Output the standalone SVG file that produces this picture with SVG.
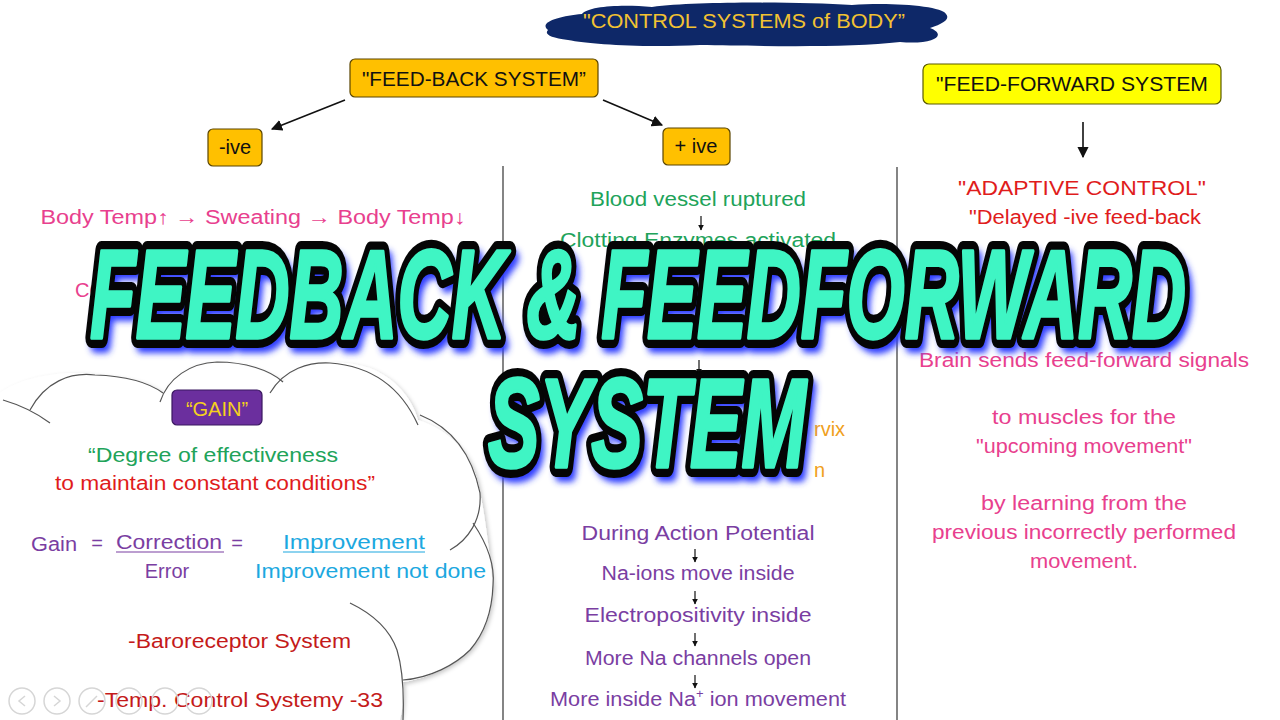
<svg xmlns="http://www.w3.org/2000/svg" width="1280" height="720" viewBox="0 0 1280 720">
<defs>
<style>
.h{font-family:"Liberation Sans","DejaVu Sans",sans-serif;font-size:20px}
.c{text-anchor:middle}
.box{stroke:#5a4500;stroke-width:1.2}
.conn{stroke:#111;stroke-width:1.6;fill:none}
.small{stroke:#111;stroke-width:1.2;fill:none}
.pink{fill:#e8408e}.green{fill:#21a35a}.purple{fill:#7a3ea2}.red{fill:#e01c1c}.dred{fill:#c41a1a}.blue{fill:#1ca8e0}.orange{fill:#f0a020}
.big{font-family:"Liberation Sans","DejaVu Sans",sans-serif;font-weight:bold;font-style:italic;font-size:126px}
.icon{fill:none;stroke:#d6d6d6;stroke-width:1.5}
</style>
<marker id="ah" viewBox="0 0 10 10" refX="9" refY="5" markerWidth="7" markerHeight="7" orient="auto"><path d="M0,0 L10,5 L0,10 Z" fill="#111"/></marker>
<marker id="ahs" viewBox="0 0 10 10" refX="9" refY="5" markerWidth="5" markerHeight="5" orient="auto"><path d="M0,0 L10,5 L0,10 Z" fill="#111"/></marker>
<filter id="sh" x="-10%" y="-10%" width="130%" height="130%"><feGaussianBlur stdDeviation="3"/></filter>
<filter id="csh" x="-10%" y="-10%" width="130%" height="130%"><feDropShadow dx="2" dy="2" stdDeviation="2" flood-color="#000" flood-opacity="0.22"/></filter>
</defs>
<rect width="1280" height="720" fill="#ffffff"/>

<g id="dividers">
<line x1="503" y1="166" x2="503" y2="720" stroke="#333" stroke-width="1.2"/>
<line x1="897" y1="167" x2="897" y2="720" stroke="#333" stroke-width="1.2"/>
</g>

<g id="title-banner">
<path d="M548,30 C538,22 560,16 582,14 C588,6 622,4 652,7 C700,1 800,2 852,5 C892,2 942,6 946,14 C952,21 936,26 930,28 C948,35 934,45 900,42 C850,48 760,46 700,45 C640,48 590,44 568,40 C550,38 544,34 548,30 Z" fill="#0e2868"/>
<text x="744" y="28" class="h c" font-size="21" fill="#f2c232" textLength="322" lengthAdjust="spacingAndGlyphs">"CONTROL SYSTEMS of BODY”</text>
</g>

<g id="feedback">
<rect x="350" y="59" width="248" height="38" rx="5" fill="#ffc000" class="box"/>
<text x="474" y="86" class="h c" fill="#111" textLength="224" lengthAdjust="spacingAndGlyphs">"FEED-BACK SYSTEM”</text>
</g>
<g id="negative">
<rect x="208" y="129" width="54" height="37" rx="5" fill="#ffc000" class="box"/>
<text x="235" y="154" class="h c" fill="#111">-ive</text>
</g>
<g id="positive">
<rect x="663" y="128" width="67" height="37" rx="5" fill="#ffc000" class="box"/>
<text x="696" y="153" class="h c" fill="#111">+ ive</text>
</g>
<g id="feedforward">
<rect x="923" y="64" width="298" height="40" rx="6" fill="#ffff00" stroke="#5a5a00" stroke-width="1.2"/>
<text x="1072" y="91" class="h c" fill="#111" textLength="272" lengthAdjust="spacingAndGlyphs">"FEED-FORWARD SYSTEM</text>
</g>

<g id="connectors">
<line x1="345" y1="100" x2="272" y2="129" class="conn" marker-end="url(#ah)"/>
<line x1="603" y1="100" x2="662" y2="125" class="conn" marker-end="url(#ah)"/>
<line x1="1083" y1="122" x2="1083" y2="157" class="conn" marker-end="url(#ah)"/>
<line x1="701" y1="216" x2="701" y2="230" class="small" marker-end="url(#ahs)"/>
<line x1="699" y1="360" x2="699" y2="374" class="small" marker-end="url(#ahs)"/>
<line x1="695" y1="549" x2="695" y2="562" class="small" marker-end="url(#ahs)"/>
<line x1="695" y1="591" x2="695" y2="604" class="small" marker-end="url(#ahs)"/>
<line x1="695" y1="633" x2="695" y2="646" class="small" marker-end="url(#ahs)"/>
<line x1="695" y1="675" x2="695" y2="688" class="small" marker-end="url(#ahs)"/>
</g>

<g id="negative-text">
<text x="253" y="224" class="h c pink" textLength="425" lengthAdjust="spacingAndGlyphs">Body Temp↑ → Sweating → Body Temp↓</text>
<text x="75" y="297" class="h pink">CO</text>
</g>

<g id="positive-text">
<text x="698" y="206" class="h c green" textLength="216" lengthAdjust="spacingAndGlyphs">Blood vessel ruptured</text>
<text x="698" y="247" class="h c green" textLength="276" lengthAdjust="spacingAndGlyphs">Clotting Enzymes activated</text>
<text x="814" y="436" class="h orange">rvix</text>
<text x="814" y="477" class="h orange">n</text>
<text x="698" y="540" class="h c purple" textLength="233" lengthAdjust="spacingAndGlyphs">During Action Potential</text>
<text x="698" y="580" class="h c purple" textLength="193" lengthAdjust="spacingAndGlyphs">Na-ions move inside</text>
<text x="698" y="622" class="h c purple" textLength="227" lengthAdjust="spacingAndGlyphs">Electropositivity inside</text>
<text x="698" y="665" class="h c purple" textLength="226" lengthAdjust="spacingAndGlyphs">More Na channels open</text>
<text x="698" y="706" class="h c purple" textLength="296" lengthAdjust="spacingAndGlyphs">More inside Na<tspan font-size="12" dy="-8">+</tspan><tspan dy="8"> ion movement</tspan></text>
</g>

<g id="feedforward-text">
<text x="1082" y="195" class="h c red" textLength="248" lengthAdjust="spacingAndGlyphs">"ADAPTIVE CONTROL"</text>
<text x="1085" y="224" class="h c red" textLength="232" lengthAdjust="spacingAndGlyphs">"Delayed -ive feed-back</text>
<text x="1084" y="367" class="h c pink" textLength="330" lengthAdjust="spacingAndGlyphs">Brain sends feed-forward signals</text>
<text x="1084" y="424" class="h c pink" textLength="184" lengthAdjust="spacingAndGlyphs">to muscles for the</text>
<text x="1084" y="453" class="h c pink" textLength="216" lengthAdjust="spacingAndGlyphs">"upcoming movement"</text>
<text x="1084" y="510" class="h c pink" textLength="206" lengthAdjust="spacingAndGlyphs">by learning from the</text>
<text x="1084" y="539" class="h c pink" textLength="304" lengthAdjust="spacingAndGlyphs">previous incorrectly performed</text>
<text x="1084" y="568" class="h c pink" textLength="108" lengthAdjust="spacingAndGlyphs">movement.</text>
</g>

<g id="gain-cloud">
<path d="M-5,398 C10,380 60,368 100,375 C130,378 150,382 163,393 C175,370 200,360 225,363 C250,365 270,372 283,382 C300,362 340,358 370,368 C395,378 412,398 418,420 C450,430 475,455 480,493 C484,510 488,540 493,585 C492,615 483,635 470,650 C455,665 430,678 403,682 C404,700 402,712 400,720 L-5,720 Z" fill="#fff" filter="url(#csh)"/>
<g fill="none" stroke="#555" stroke-width="1.2">
<path d="M3,400 C20,405 38,414 50,423"/>
<path d="M30,410 C45,382 70,372 95,375 C125,376 148,382 163,393"/>
<path d="M160,402 C168,378 190,363 217,362 C245,362 270,370 283,382"/>
<path d="M270,393 C285,368 310,362 330,363 C370,366 400,385 418,425"/>
<path d="M420,415 C445,425 470,445 480,493 C482,520 468,540 450,550"/>
<path d="M473,523 C488,545 495,565 493,585 C492,615 483,635 470,650 C455,665 430,678 403,680"/>
<path d="M350,603 C375,615 390,630 397,650 C403,670 404,695 403,720"/>
</g>
<rect x="172" y="390" width="90" height="35" rx="5" fill="#6b2f9e" stroke="#3a1860" stroke-width="1.2"/>
<text x="217" y="416" class="h c" font-size="22" fill="#f5d020">“GAIN”</text>
<text x="213" y="462" class="h c green" textLength="250" lengthAdjust="spacingAndGlyphs">“Degree of effectiveness</text>
<text x="215" y="490" class="h c red" textLength="320" lengthAdjust="spacingAndGlyphs">to maintain constant conditions”</text>
<text x="31" y="551" class="h purple" textLength="46" lengthAdjust="spacingAndGlyphs">Gain</text>
<text x="97" y="550" class="h c purple">=</text>
<text x="116" y="549" class="h purple" textLength="106" lengthAdjust="spacingAndGlyphs">Correction</text>
<line x1="116" y1="552" x2="224" y2="552" stroke="#7a3ea2" stroke-width="1.2"/>
<text x="167" y="578" class="h c purple">Error</text>
<text x="237" y="550" class="h c purple">=</text>
<text x="283" y="549" class="h blue" textLength="142" lengthAdjust="spacingAndGlyphs">Improvement</text>
<line x1="283" y1="552" x2="425" y2="552" stroke="#1ca8e0" stroke-width="1.2"/>
<text x="255" y="578" class="h blue" textLength="231" lengthAdjust="spacingAndGlyphs">Improvement not done</text>
<text x="128" y="648" class="h dred" textLength="223" lengthAdjust="spacingAndGlyphs">-Baroreceptor System</text>
<text x="97" y="707" class="h dred" textLength="286" lengthAdjust="spacingAndGlyphs">-Temp. Control Systemy -33</text>
</g>

<g id="player-controls">
<circle cx="22" cy="701" r="13" class="icon"/>
<path d="M25,696 L19,701 L25,706" class="icon"/>
<circle cx="57" cy="701" r="13" class="icon"/>
<path d="M54,696 L60,701 L54,706" class="icon"/>
<circle cx="92" cy="701" r="13" class="icon"/>
<path d="M86,707 L97,696" class="icon"/>
<circle cx="129" cy="701" r="13" class="icon"/>
<circle cx="165" cy="701" r="13" class="icon"/>
<circle cx="199" cy="701" r="13" class="icon"/>
</g>

<g id="big-title">
<g filter="url(#sh)" fill="#2d3cff" stroke="#2d3cff" stroke-width="16" stroke-linejoin="round">
<text x="94" y="345" class="big" textLength="1096" lengthAdjust="spacingAndGlyphs">FEEDBACK &amp; FEEDFORWARD</text>
<text x="492" y="474" class="big" textLength="318" lengthAdjust="spacingAndGlyphs">SYSTEM</text>
</g>
<g fill="#050505" stroke="#050505" stroke-width="20" stroke-linejoin="round">
<text x="90" y="338" class="big" textLength="1096" lengthAdjust="spacingAndGlyphs">FEEDBACK &amp; FEEDFORWARD</text>
<text x="488" y="467" class="big" textLength="318" lengthAdjust="spacingAndGlyphs">SYSTEM</text>
</g>
<g fill="#3ff5c4" stroke="#3ff5c4" stroke-width="3.5" stroke-linejoin="round">
<text x="90" y="338" class="big" textLength="1096" lengthAdjust="spacingAndGlyphs">FEEDBACK &amp; FEEDFORWARD</text>
<text x="488" y="467" class="big" textLength="318" lengthAdjust="spacingAndGlyphs">SYSTEM</text>
</g>
</g>
</svg>
